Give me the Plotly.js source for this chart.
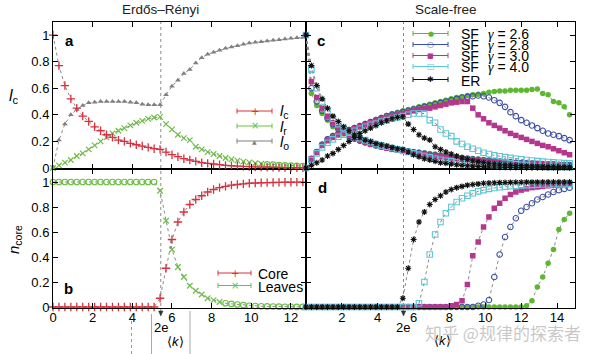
<!DOCTYPE html>
<html><head><meta charset="utf-8">
<script src="https://cdn.plot.ly/plotly-3.0.1.min.js"></script>
<style>html,body{margin:0;padding:0;background:#fff}</style>
</head><body><div id="chart" style="width:600px;height:354px"></div>
<script>
// ---------- data ----------
const kLeft = [0,0.3,0.6,0.9,1.2,1.5,1.8,2.1,2.4,2.7,3,3.3,3.6,3.9,4.2,4.5,4.8,5.1,5.4,5.7,6,6.3,6.6,6.9,7.2,7.5,7.8,8.1,8.4,8.7,9,9.3,9.6,9.9,10.2,10.5,10.8,11.1,11.4,11.7,12,12.3,12.6];
const kRightExtra = [12.9,13.2,13.5,13.8,14.1,14.4,14.7];

// Erdos-Renyi (panels a, b)
const erLc = [1.0,0.77,0.62,0.52,0.45,0.39,0.35,0.31,0.28,0.25,0.23,0.21,0.20,0.185,0.175,0.165,0.155,0.145,0.14,0.12,0.10,0.085,0.07,0.06,0.05,0.04,0.035,0.03,0.025,0.02,0.017,0.014,0.012,0.01,0.008,0.007,0.006,0.005,0.004,0.003,0.003,0.002,0.002];
const erLr = [0,0.02,0.04,0.06,0.09,0.11,0.14,0.17,0.20,0.23,0.26,0.28,0.30,0.32,0.34,0.355,0.37,0.38,0.385,0.33,0.29,0.25,0.225,0.21,0.16,0.14,0.12,0.105,0.09,0.075,0.065,0.055,0.048,0.042,0.036,0.032,0.028,0.025,0.022,0.02,0.018,0.016,0.015];
const erLo = [0,0.21,0.33,0.40,0.44,0.47,0.49,0.495,0.50,0.50,0.50,0.50,0.50,0.495,0.49,0.48,0.475,0.475,0.475,0.55,0.615,0.66,0.71,0.74,0.79,0.83,0.855,0.87,0.885,0.90,0.91,0.92,0.93,0.94,0.945,0.95,0.955,0.96,0.965,0.97,0.975,0.98,0.982];
const erCore = [0,0,0,0,0,0,0,0,0,0,0,0,0,0,0,0,0,0,0.07,0.31,0.54,0.68,0.76,0.82,0.86,0.89,0.92,0.94,0.955,0.965,0.975,0.98,0.985,0.99,0.992,0.994,0.995,0.996,0.997,0.998,0.998,0.999,0.999];
const erLeaves = [1,1,1,1,1,1,1,1,1,1,1,1,1,1,1,1,1,1,0.93,0.69,0.46,0.32,0.24,0.17,0.13,0.10,0.07,0.055,0.04,0.03,0.025,0.02,0.015,0.01,0.008,0.006,0.005,0.004,0.003,0.002,0.002,0.001,0.001];
// ER continuation on the wider right-hand axis
const erLcTail = [0.002,0.001,0.001,0.001,0.001,0.001,0.001];
const erLrTail = [0.014,0.013,0.012,0.011,0.01,0.01,0.009];
const erCoreTail = [0.999,1,1,1,1,1,1];

// Scale-free (panels c, d)
const sf26Lc = [1.0,0.56,0.47,0.41,0.36,0.31,0.28,0.255,0.235,0.22,0.205,0.19,0.18,0.17,0.16,0.155,0.15,0.14,0.135,0.13,0.125,0.12,0.115,0.11,0.105,0.1,0.095,0.09,0.085,0.08,0.076,0.072,0.068,0.064,0.06,0.056,0.052,0.048,0.045,0.042,0.04,0.037,0.035,0.032,0.03,0.028,0.026,0.025,0.024,0.022];
const sf28Lc = [1.0,0.6,0.5,0.43,0.375,0.33,0.295,0.265,0.24,0.22,0.205,0.192,0.18,0.17,0.16,0.152,0.145,0.138,0.13,0.125,0.118,0.112,0.106,0.1,0.095,0.09,0.086,0.082,0.078,0.074,0.07,0.066,0.062,0.058,0.055,0.052,0.049,0.046,0.043,0.04,0.038,0.036,0.034,0.032,0.03,0.028,0.027,0.025,0.024,0.023];
const sf30Lc = [1.0,0.65,0.53,0.45,0.39,0.34,0.305,0.275,0.25,0.228,0.21,0.195,0.18,0.17,0.16,0.15,0.14,0.135,0.125,0.12,0.11,0.105,0.1,0.095,0.09,0.085,0.08,0.075,0.07,0.066,0.062,0.058,0.054,0.05,0.047,0.044,0.041,0.038,0.036,0.034,0.032,0.03,0.028,0.026,0.025,0.023,0.022,0.02,0.019,0.018];
const sf40Lc = [1.0,0.74,0.6,0.5,0.43,0.37,0.33,0.3,0.27,0.245,0.225,0.21,0.195,0.18,0.17,0.16,0.15,0.14,0.13,0.12,0.11,0.1,0.09,0.08,0.07,0.062,0.055,0.05,0.045,0.04,0.036,0.032,0.029,0.026,0.024,0.022,0.02,0.018,0.016,0.014,0.013,0.012,0.011,0.01,0.009,0.008,0.008,0.007,0.007,0.006];

const sf26Lr = [0,0.07,0.12,0.18,0.22,0.245,0.26,0.275,0.29,0.305,0.32,0.335,0.35,0.365,0.38,0.395,0.41,0.42,0.43,0.44,0.45,0.46,0.47,0.48,0.49,0.5,0.51,0.52,0.53,0.535,0.545,0.55,0.555,0.56,0.57,0.575,0.58,0.58,0.585,0.585,0.585,0.585,0.59,0.595,0.56,0.55,0.5,0.49,0.46,0.40];
const sf28Lr = [0,0.07,0.12,0.175,0.215,0.24,0.255,0.27,0.285,0.3,0.315,0.33,0.345,0.36,0.375,0.39,0.4,0.41,0.42,0.43,0.44,0.45,0.46,0.47,0.48,0.49,0.5,0.51,0.52,0.53,0.535,0.54,0.545,0.54,0.53,0.51,0.49,0.46,0.42,0.39,0.36,0.34,0.32,0.3,0.28,0.26,0.25,0.24,0.225,0.21];
const sf30Lr = [0,0.07,0.12,0.17,0.205,0.23,0.25,0.265,0.28,0.295,0.31,0.325,0.34,0.355,0.37,0.38,0.39,0.4,0.41,0.42,0.43,0.44,0.445,0.45,0.46,0.47,0.48,0.49,0.495,0.5,0.5,0.45,0.4,0.37,0.34,0.32,0.3,0.28,0.26,0.245,0.23,0.215,0.2,0.185,0.17,0.16,0.145,0.13,0.115,0.1];
const sf40Lr = [0,0.06,0.11,0.155,0.19,0.215,0.235,0.25,0.265,0.28,0.295,0.31,0.325,0.335,0.35,0.36,0.37,0.38,0.39,0.4,0.41,0.41,0.41,0.36,0.34,0.29,0.26,0.24,0.2,0.18,0.16,0.145,0.13,0.115,0.105,0.095,0.088,0.082,0.076,0.07,0.065,0.06,0.056,0.052,0.048,0.045,0.042,0.04,0.037,0.035];

const sf26Core = [0,0,0,0,0,0,0,0,0,0,0,0,0,0,0,0,0,0,0,0,0,0,0,0,0,0,0,0,0,0,0,0,0,0,0,0,0,0,0,0,0,0.01,0.05,0.16,0.24,0.35,0.46,0.62,0.70,0.75];
const sf28Core = [0,0,0,0,0,0,0,0,0,0,0,0,0,0,0,0,0,0,0,0,0,0,0,0,0,0,0,0,0,0,0,0,0.01,0.02,0.056,0.24,0.42,0.56,0.64,0.71,0.77,0.80,0.83,0.86,0.88,0.90,0.92,0.935,0.945,0.955];
const sf30Core = [0,0,0,0,0,0,0,0,0,0,0,0,0,0,0,0,0,0,0,0,0,0,0,0,0,0,0,0.01,0.02,0.05,0.18,0.41,0.52,0.64,0.72,0.79,0.83,0.87,0.9,0.92,0.935,0.945,0.955,0.96,0.965,0.97,0.973,0.976,0.978,0.98];
const sf40Core = [0,0,0,0,0,0,0,0,0,0,0,0,0,0,0,0,0,0,0,0,0,0.03,0.2,0.42,0.58,0.68,0.75,0.8,0.84,0.87,0.89,0.91,0.925,0.935,0.945,0.952,0.958,0.963,0.967,0.97,0.973,0.975,0.977,0.979,0.98,0.981,0.982,0.983,0.984,0.985];

const gammaLabels = ['2.6','2.8','3.0','4.0'];
const yTicks = [0,0.2,0.4,0.6,0.8,1];
const xTicksLeft = [0,2,4,6,8,10,12];
const xTicksRight = [2,4,6,8,10,12,14];
const twoE = 2*Math.E;

// ---------- drawing ----------
const kRight = kLeft.concat(kRightExtra);
const W = 600, H = 354;
const PX = x => x / W, PY = y => 1 - y / H;
const FONT = 'Liberation Sans, Arial, sans-serif';
const LINK = {color: '#8a8a8a', width: 1, dash: 'dot'};

const C = {red:'#d8303c', green:'#6cbf45', gray:'#7f7f7f',
  g26:'#5cb82e', g28:'#3b4fa6', g30:'#b5368d', g40:'#5fc6d6', er:'#111111'};

function tr(x, y, xa, ya, marker){
  return {x, y, xaxis: xa, yaxis: ya, type:'scatter', mode:'lines+markers',
    line: LINK, marker, cliponaxis:false, hoverinfo:'skip'};
}
const plus = c => ({symbol:'cross-thin-open', size:6, color:c, line:{color:c, width:1.3}});
const cross = (c, ys, ks) => ({symbol: ys.map((v,i)=> (v>=0.99 || (v<=0.03 && ks[i]>6)) ? 'circle-open' : 'x-thin-open'),
   size:5.5, line:{color:c, width:1.2}, color:c});

const sfLr = [sf26Lr, sf28Lr, sf30Lr, sf40Lr];
const sfLc = [sf26Lc, sf28Lc, sf30Lc, sf40Lc];
const sfCore = [sf26Core, sf28Core, sf30Core, sf40Core];
const sfMarkers = [
  {symbol:'circle', size:5.5, color:C.g26, line:{width:0}},
  {symbol:'circle-open', size:5.5, color:C.g28, line:{color:C.g28, width:1.1}},
  {symbol:'square', size:5.5, color:C.g30, line:{width:0}},
  {symbol:'square-open', size:5.5, color:C.g40, line:{color:C.g40, width:1.1}}
];
const erMarker = {symbol:'asterisk-open', size:5, line:{color:C.er, width:1.1}, color:C.er};

const data = [];
// panel a
data.push(tr(kLeft, erLo, 'x3','y3', {symbol:'triangle-up', size:5, color:C.gray}));
data.push(tr(kLeft, erLr, 'x3','y3', cross(C.green, erLr, kLeft)));
data.push(tr(kLeft, erLc, 'x3','y3', plus(C.red)));
// panel b
data.push(tr(kLeft, erLeaves, 'x','y', cross(C.green, erLeaves, kLeft)));
data.push(tr(kLeft, erCore, 'x','y', plus(C.red)));
// panel c
for (let i=0;i<4;i++){
  data.push(tr(kRight, sfLc[i], 'x4','y4', sfMarkers[i]));
  data.push(tr(kRight, sfLr[i], 'x4','y4', sfMarkers[i]));
}
data.push(tr(kRight, erLc.concat(erLcTail), 'x4','y4', erMarker));
data.push(tr(kRight, erLr.concat(erLrTail), 'x4','y4', erMarker));
// panel d
for (let i=0;i<4;i++) data.push(tr(kRight, sfCore[i], 'x2','y2', sfMarkers[i]));
data.push(tr(kRight, erCore.concat(erCoreTail), 'x2','y2', erMarker));

const axBase = {ticks:'inside', ticklen:5, tickwidth:1, tickcolor:'#000', mirror:'allticks',
  showline:true, linecolor:'#000', linewidth:1, showgrid:false, zeroline:false,
  tickfont:{family:FONT, size:13, color:'#000'}, fixedrange:true};
const LXp = [53, 306], RXp = [306, 575];
const LX = LXp.map(PX), RX = RXp.map(PX);
const TOPY = [PY(169), PY(22)], BOTY = [PY(308), PY(169)];
const rngTop = [-0.0075, 1.098], rngBot = [-0.008, 1.104];
const xl = 12.76, xr = 15.0;

const layout = {
  width: W, height: H, margin:{l:0,r:0,t:0,b:0},
  paper_bgcolor:'#fff', plot_bgcolor:'#fff', showlegend:false,
  font:{family:FONT, size:13, color:'#000'},
  xaxis: Object.assign({}, axBase, {domain:LX, range:[0,xl], anchor:'y', tickvals:xTicksLeft, ticklabelstandoff:-3}),
  yaxis: Object.assign({}, axBase, {domain:BOTY, range:rngBot, anchor:'x', tickvals:yTicks, ticktext:yTicks.map(String)}),
  xaxis2: Object.assign({}, axBase, {domain:RX, range:[0,xr], anchor:'y2', tickvals:xTicksRight, ticklabelstandoff:-3}),
  yaxis2: Object.assign({}, axBase, {domain:BOTY, range:rngBot, anchor:'x2', tickvals:yTicks, showticklabels:false}),
  xaxis3: Object.assign({}, axBase, {domain:LX, range:[0,xl], anchor:'y3', tickvals:xTicksLeft, showticklabels:false}),
  yaxis3: Object.assign({}, axBase, {domain:TOPY, range:rngTop, anchor:'x3', tickvals:yTicks, ticktext:yTicks.map(String)}),
  xaxis4: Object.assign({}, axBase, {domain:RX, range:[0,xr], anchor:'y4', tickvals:xTicksRight, showticklabels:false}),
  yaxis4: Object.assign({}, axBase, {domain:TOPY, range:rngTop, anchor:'x4', tickvals:yTicks, showticklabels:false}),
  shapes: [], annotations: []
};

const S = layout.shapes, A = layout.annotations;
// 2e dotted markers through both panels, with small arrow heads below the axis
const twoEpxL = LXp[0] + twoE*(LXp[1]-LXp[0])/xl;
const twoEpxR = RXp[0] + twoE*(RXp[1]-RXp[0])/xr;
S.push({type:'line', xref:'x', yref:'paper', x0:twoE, x1:twoE, y0:PY(312), y1:PY(22), line:{color:'#8a8a8a', width:1, dash:'dot'}, layer:'below'});
S.push({type:'line', xref:'x2', yref:'paper', x0:twoE, x1:twoE, y0:PY(312), y1:PY(22), line:{color:'#8a8a8a', width:1, dash:'dot'}, layer:'below'});
[twoEpxL, twoEpxR].forEach(p => {
  S.push({type:'path', xref:'paper', yref:'paper',
    path:`M ${PX(p-2.2)} ${PY(311)} L ${PX(p+2.2)} ${PY(311)} L ${PX(p)} ${PY(316)} Z`,
    fillcolor:'#333', line:{color:'#333', width:0.5}});
});
// guide lines below the left panel
S.push({type:'line', xref:'paper', yref:'paper', x0:PX(131.5), x1:PX(131.5), y0:PY(321), y1:0, line:{color:'#999', width:1, dash:'dot'}});
S.push({type:'line', xref:'paper', yref:'paper', x0:PX(151.5), x1:PX(151.5), y0:PY(314), y1:0, line:{color:'#aaa', width:1}});
S.push({type:'line', xref:'paper', yref:'paper', x0:PX(190), x1:PX(190), y0:PY(311), y1:0, line:{color:'#aaa', width:1}});

function txt(x, y, text, opts){
  A.push(Object.assign({xref:'paper', yref:'paper', x:PX(x), y:PY(y), text, showarrow:false,
    xanchor:'center', yanchor:'middle', font:{family:FONT, size:13, color:'#000'}}, opts||{}));
}
txt(160, 10, 'Erdős–Rényi', {font:{family:FONT, size:13.5, color:'#222'}});
txt(446, 10, 'Scale-free', {font:{family:FONT, size:13.5, color:'#222'}});
txt(14, 97, '<i>l</i><sub>c</sub>', {font:{family:FONT, size:16, color:'#000'}});
txt(14, 240, '<i>n</i><sub>core</sub>', {textangle:-90, font:{family:FONT, size:15, color:'#000'}});
const bold = {family:FONT, size:15, color:'#000', weight:'bold'};
txt(69, 41, '<b>a</b>', {font:bold});
txt(68, 288, '<b>b</b>', {font:bold});
txt(321, 41, '<b>c</b>', {font:bold});
txt(322, 187, '<b>d</b>', {font:bold});

// 2e labels
txt(twoEpxL, 327, '2e');
txt(twoEpxR, 327, '2e');
txt(175, 341, '⟨<i>k</i>⟩');
txt(442, 340, '⟨<i>k</i>⟩');

// custom legends (errorbar-style keys)
function key(x0, x1, y, color, glyph, gsize, label, lx, lfont){
  S.push({type:'line', xref:'paper', yref:'paper', x0:PX(x0), x1:PX(x1), y0:PY(y), y1:PY(y), line:{color, width:1}});
  S.push({type:'line', xref:'paper', yref:'paper', x0:PX(x0), x1:PX(x0), y0:PY(y-2.5), y1:PY(y+2.5), line:{color, width:1}});
  S.push({type:'line', xref:'paper', yref:'paper', x0:PX(x1), x1:PX(x1), y0:PY(y-2.5), y1:PY(y+2.5), line:{color, width:1}});
  txt((x0+x1)/2, y, glyph, {font:{family:'DejaVu Sans', size:gsize, color}});
  txt(lx, y+1, label, {xanchor:'left', font:lfont || {family:FONT, size:14, color:'#000'}});
}
key(237, 272, 111, C.red, '+', 10, '<i>l</i><sub>c</sub>', 278, {family:FONT, size:15, color:'#000'});
key(237, 272, 126, C.green, '×', 10, '<i>l</i><sub>r</sub>', 278, {family:FONT, size:15, color:'#000'});
key(237, 272, 141, C.gray, '▲', 6, '<i>l</i><sub>o</sub>', 278, {family:FONT, size:15, color:'#000'});
key(218, 251, 273, C.red, '+', 10, 'Core', 256);
key(218, 251, 285.5, C.green, '×', 10, 'Leaves', 256);

const sfColors = [C.g26, C.g28, C.g30, C.g40];
const sfGlyphs = [['●',7],['○',8],['■',7],['□',8]];
const rows = [33.5, 44.5, 55.5, 66.5, 79.5];
for (let i=0;i<4;i++){
  key(413, 448, rows[i], sfColors[i], sfGlyphs[i][0], sfGlyphs[i][1], 'SF', 459);
  txt(486, rows[i]+1, "<span style='font-family:Liberation Serif;font-style:italic'>γ</span> = " + gammaLabels[i], {xanchor:'left', font:{family:FONT, size:14, color:'#000'}});
}
key(413, 448, rows[4], C.er, '✱', 8, 'ER', 459);

// watermark
txt(503, 332, '知乎 @规律的探索者', {font:{family:'Noto Sans CJK SC', size:17, color:'rgba(190,190,190,0.85)'}});

Plotly.newPlot('chart', data, layout, {displayModeBar:false, staticPlot:true});
</script></body></html>
